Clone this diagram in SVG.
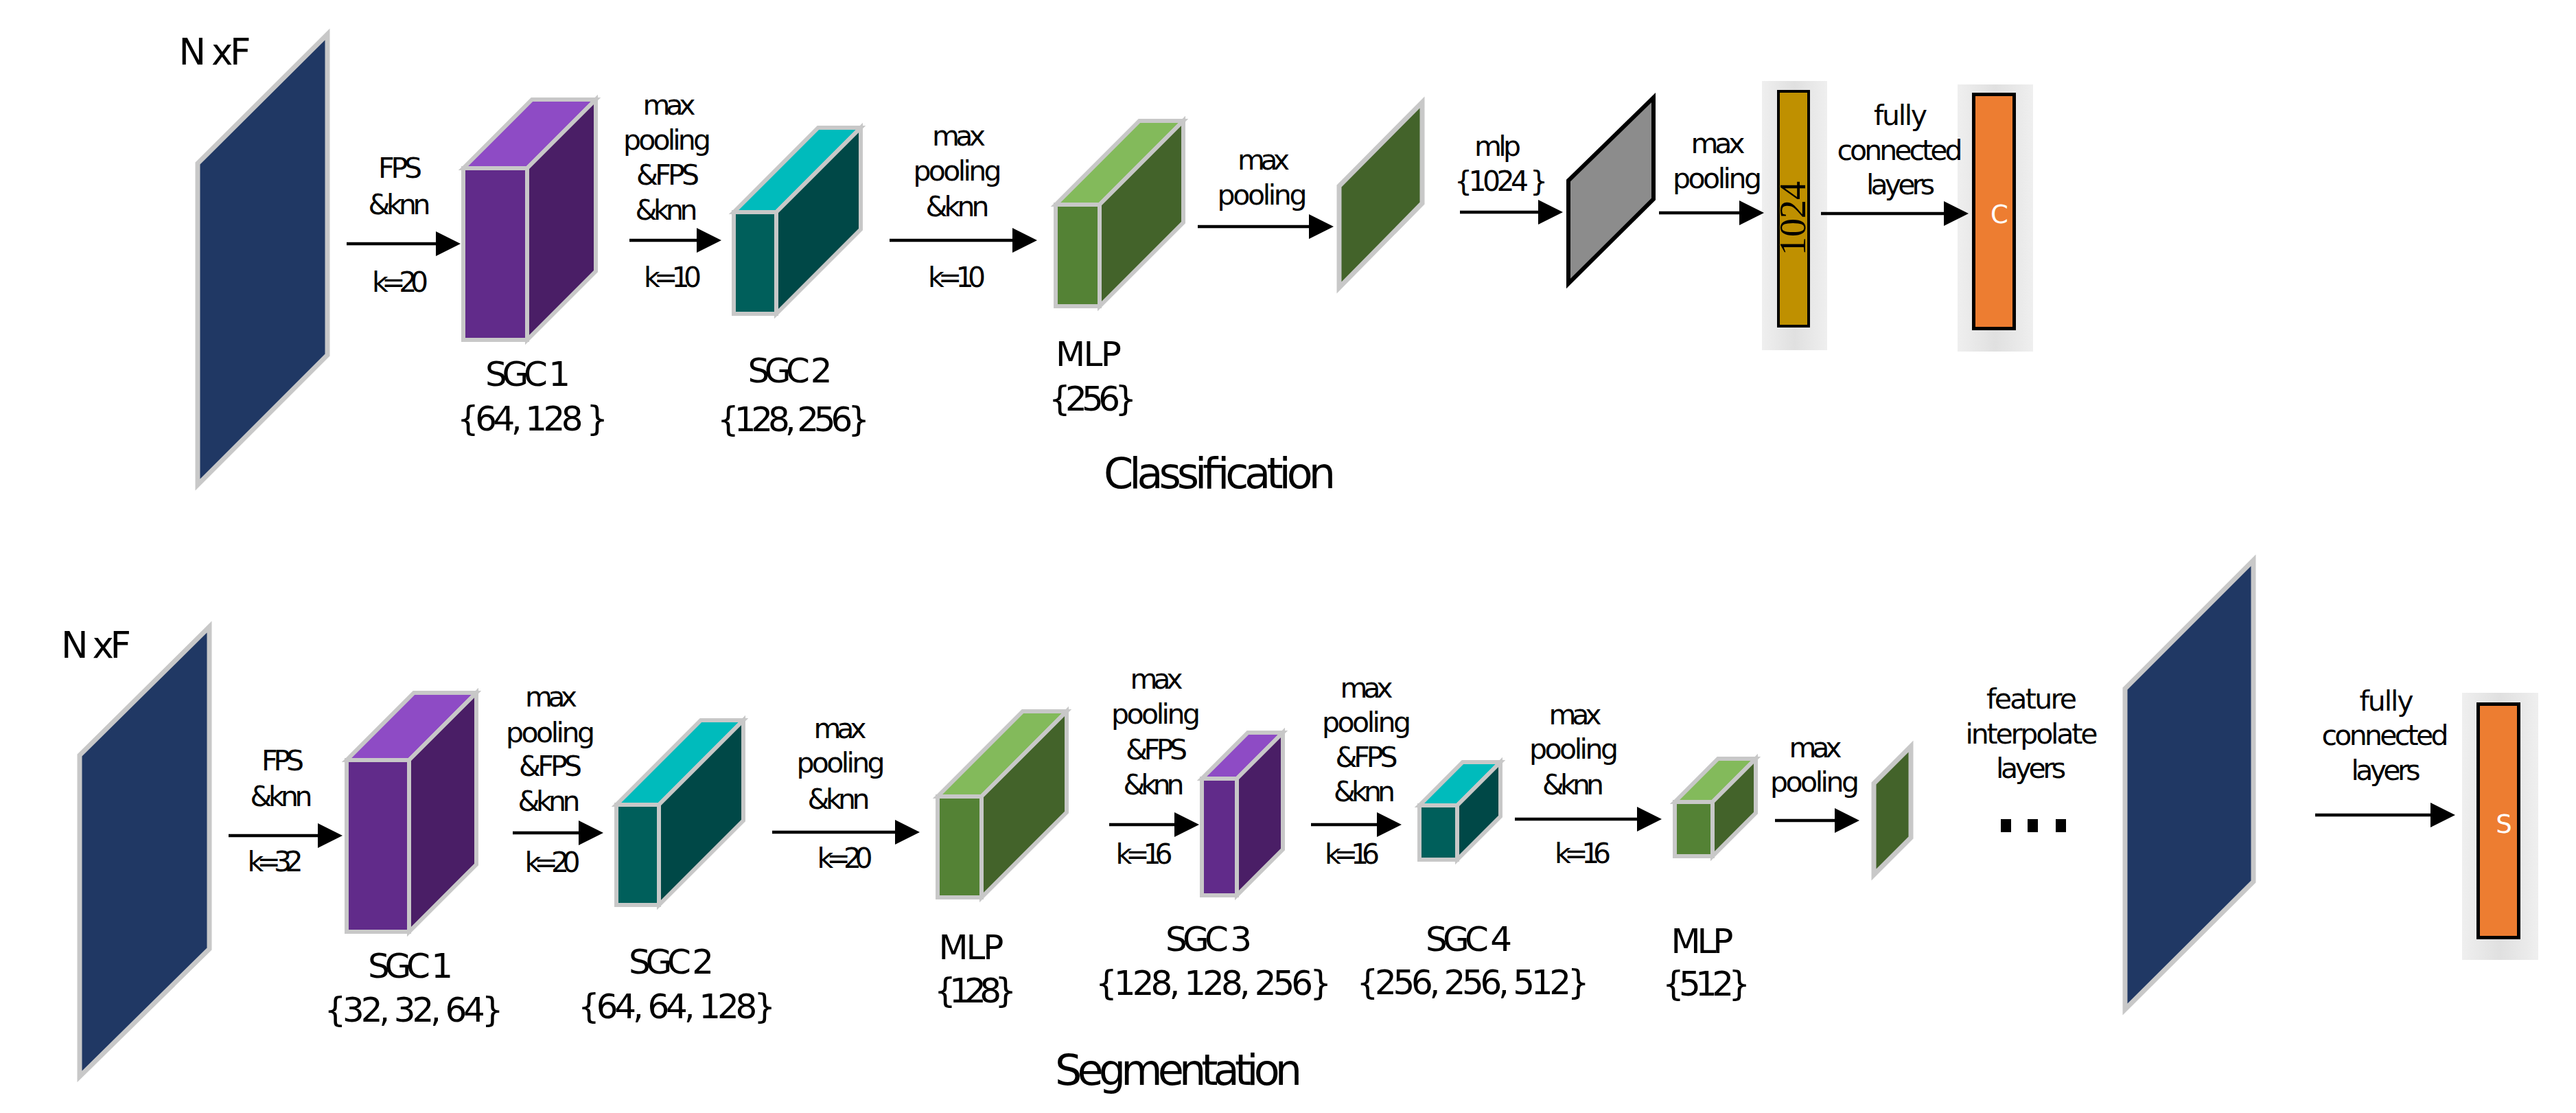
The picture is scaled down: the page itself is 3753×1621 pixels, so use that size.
<svg xmlns="http://www.w3.org/2000/svg" width="3753" height="1621" viewBox="0 0 3753 1621">
<defs>
<style>
text{font-family:"DejaVu Sans","Liberation Sans",sans-serif;fill:#000}
.l{font-size:41px;text-anchor:middle}
.n{font-size:50px;text-anchor:middle}
.t{font-size:62px;text-anchor:middle}
.nx{font-size:53px;text-anchor:middle}
.pl{stroke:#c8c8c8;stroke-width:7;stroke-linejoin:miter}
.cb{stroke:#c8c8c8;stroke-width:6;stroke-linejoin:miter}
.navy{fill:#203864}
.gdk{fill:#43632a}
.pf{fill:#612b8a}.pt{fill:#8e4bc5}.ps{fill:#4a1e66}
.tf{fill:#005f5b}.tt{fill:#00bbbc}.ts{fill:#004847}
.gf{fill:#548235}.gt{fill:#83ba5b}.gs{fill:#43632a}
.arr{stroke:#000;stroke-width:4.5;fill:none;marker-end:url(#ah)}
.bar{stroke:#000;stroke-width:5}
</style>
<marker id="ah" viewBox="0 0 36 36" refX="24" refY="18" markerWidth="36" markerHeight="36" markerUnits="userSpaceOnUse" orient="auto">
<path d="M0,0 L36,18 L0,36 Z" fill="#000"/>
</marker>
<linearGradient id="band" x1="0" y1="0" x2="1" y2="0">
<stop offset="0" stop-color="#efefef"/>
<stop offset="0.5" stop-color="#e0e0e0"/>
<stop offset="1" stop-color="#efefef"/>
</linearGradient>
</defs>
<rect width="3753" height="1621" fill="#fff"/>

<!-- ===== Classification row ===== -->
<g id="input-top">
<polygon class="pl navy" points="288,238 477,50 477,517 288,706"/>
<text class="nx" x="313" y="94" textLength="105" lengthAdjust="spacing">N xF</text>
</g>

<g id="sgc1-top">
<rect class="cb pf" x="675" y="245" width="93" height="250"/>
<polygon class="cb pt" points="675,245 775,145 868,145 768,245"/>
<polygon class="cb ps" points="768,245 868,145 868,395 768,495"/>
<text class="n" x="769" y="562" textLength="124" lengthAdjust="spacing">SGC 1</text>
<text class="n" x="776" y="627" textLength="220" lengthAdjust="spacing">{64, 128 }</text>
</g>

<g id="sgc2-top">
<rect class="cb tf" x="1069" y="309" width="62" height="148"/>
<polygon class="cb tt" points="1069,309 1192,186 1254,186 1131,309"/>
<polygon class="cb ts" points="1131,309 1254,186 1254,334 1131,457"/>
<text class="n" x="1151" y="557" textLength="123" lengthAdjust="spacing">SGC 2</text>
<text class="n" x="1156" y="628" textLength="222" lengthAdjust="spacing">{128, 256}</text>
</g>

<g id="mlp-top">
<rect class="cb gf" x="1538" y="298" width="64" height="148"/>
<polygon class="cb gt" points="1538,298 1660,176 1724,176 1602,298"/>
<polygon class="cb gs" points="1602,298 1724,176 1724,324 1602,446"/>
<text class="n" x="1586" y="533" textLength="96" lengthAdjust="spacing">MLP</text>
<text class="n" x="1592" y="598" textLength="128" lengthAdjust="spacing">{256}</text>
</g>

<g id="pool-top">
<polygon class="pl gdk" points="1951,271 2072,149 2072,296 1951,419"/>
</g>

<g id="mlp1024-top">
<polygon points="2285,263 2409,142 2409,290 2285,413" fill="#8c8c8c" stroke="#000" stroke-width="6"/>
</g>

<g id="vec1024">
<rect x="2567" y="118" width="95" height="392" fill="url(#band)"/>
<rect x="2591" y="133" width="44" height="342" fill="#bf9000" stroke="#000" stroke-width="4"/>
<text transform="translate(2630,318) rotate(-90)" style="font-family:'Liberation Serif',serif;font-size:54px;text-anchor:middle">1024</text>
</g>

<g id="out-c">
<rect x="2852" y="123" width="110" height="389" fill="url(#band)"/>
<rect class="bar" x="2875.5" y="137.5" width="59" height="341" fill="#ed7d31"/>
<text x="2913" y="325" style="font-size:37px;fill:#fff;text-anchor:middle">C</text>
</g>

<text class="t" x="1777" y="711" textLength="338" lengthAdjust="spacing">Classification</text>

<!-- ===== Segmentation row ===== -->
<g id="input-bot">
<polygon class="pl navy" points="116,1100 305,913 305,1382 116,1568"/>
<text class="nx" x="140" y="958" textLength="102" lengthAdjust="spacing">N xF</text>
</g>

<g id="sgc1-bot">
<rect class="cb pf" x="505" y="1107" width="91" height="250"/>
<polygon class="cb pt" points="505,1107 603,1009 694,1009 596,1107"/>
<polygon class="cb ps" points="596,1107 694,1009 694,1259 596,1357"/>
<text class="n" x="598" y="1424" textLength="124" lengthAdjust="spacing">SGC 1</text>
<text class="n" x="603" y="1488" textLength="261" lengthAdjust="spacing">{32, 32, 64}</text>
</g>

<g id="sgc2-bot">
<rect class="cb tf" x="898" y="1172" width="62" height="146"/>
<polygon class="cb tt" points="898,1172 1021,1049 1083,1049 960,1172"/>
<polygon class="cb ts" points="960,1172 1083,1049 1083,1195 960,1318"/>
<text class="n" x="978" y="1418" textLength="124" lengthAdjust="spacing">SGC 2</text>
<text class="n" x="986" y="1483" textLength="288" lengthAdjust="spacing">{64, 64, 128}</text>
</g>

<g id="mlp-bot">
<rect class="cb gf" x="1366" y="1160" width="64" height="147"/>
<polygon class="cb gt" points="1366,1160 1490,1036 1554,1036 1430,1160"/>
<polygon class="cb gs" points="1430,1160 1554,1036 1554,1183 1430,1307"/>
<text class="n" x="1415" y="1397" textLength="95" lengthAdjust="spacing">MLP</text>
<text class="n" x="1421" y="1460" textLength="120" lengthAdjust="spacing">{128}</text>
</g>

<g id="sgc3-bot">
<rect class="cb pf" x="1751" y="1134" width="51" height="170"/>
<polygon class="cb pt" points="1751,1134 1818,1067 1869,1067 1802,1134"/>
<polygon class="cb ps" points="1802,1134 1869,1067 1869,1237 1802,1304"/>
<text class="n" x="1761" y="1385" textLength="126" lengthAdjust="spacing">SGC 3</text>
<text class="n" x="1768" y="1449" textLength="344" lengthAdjust="spacing">{128, 128, 256}</text>
</g>

<g id="sgc4-bot">
<rect class="cb tf" x="2068" y="1173" width="55" height="79"/>
<polygon class="cb tt" points="2068,1173 2131,1110 2186,1110 2123,1173"/>
<polygon class="cb ts" points="2123,1173 2186,1110 2186,1189 2123,1252"/>
<text class="n" x="2140" y="1385" textLength="126" lengthAdjust="spacing">SGC 4</text>
<text class="n" x="2146" y="1448" textLength="339" lengthAdjust="spacing">{256, 256, 512}</text>
</g>

<g id="mlp2-bot">
<rect class="cb gf" x="2440" y="1168" width="55" height="79"/>
<polygon class="cb gt" points="2440,1168 2503,1105 2558,1105 2495,1168"/>
<polygon class="cb gs" points="2495,1168 2558,1105 2558,1184 2495,1247"/>
<text class="n" x="2480" y="1388" textLength="91" lengthAdjust="spacing">MLP</text>
<text class="n" x="2486" y="1450" textLength="128" lengthAdjust="spacing">{512}</text>
</g>

<g id="pool-bot">
<polygon class="pl gdk" points="2730,1141 2784,1087 2784,1220 2730,1274"/>
</g>

<g id="interp">
<text class="l" x="2960" y="1032" textLength="132" lengthAdjust="spacing">feature</text>
<text class="l" x="2960" y="1083" textLength="193" lengthAdjust="spacing">interpolate</text>
<text class="l" x="2959" y="1133" textLength="102" lengthAdjust="spacing">layers</text>
<rect x="2915" y="1193" width="15" height="19" fill="#000"/>
<rect x="2954" y="1193" width="15" height="19" fill="#000"/>
<rect x="2995" y="1193" width="15" height="19" fill="#000"/>
</g>

<g id="feat-bot">
<polygon class="pl navy" points="3096,1003 3283,816 3283,1284 3096,1470"/>
</g>

<g id="out-s">
<rect x="3587" y="1009" width="111" height="389" fill="url(#band)"/>
<rect class="bar" x="3610.5" y="1025.5" width="59" height="340" fill="#ed7d31"/>
<text x="3648" y="1213" style="font-size:37px;fill:#fff;text-anchor:middle">S</text>
</g>

<text class="t" x="1717" y="1580" textLength="360" lengthAdjust="spacing">Segmentation</text>

<!-- ===== Connectors ===== -->
<g id="connectors">
<path class="arr" d="M505,355 H659"/>
<path class="arr" d="M917,350 H1039"/>
<path class="arr" d="M1296,350 H1499"/>
<path class="arr" d="M1745,330 H1931"/>
<path class="arr" d="M2127,309 H2265"/>
<path class="arr" d="M2417,310 H2558"/>
<path class="arr" d="M2653,311 H2856"/>
<path class="arr" d="M333,1217 H487"/>
<path class="arr" d="M747,1213 H867"/>
<path class="arr" d="M1125,1212 H1328"/>
<path class="arr" d="M1616,1201 H1735"/>
<path class="arr" d="M1910,1201 H2030"/>
<path class="arr" d="M2207,1193 H2409"/>
<path class="arr" d="M2586,1195 H2697"/>
<path class="arr" d="M3373,1187 H3565"/>
</g>

<!-- ===== Connector labels ===== -->
<g id="labels">
<text class="l" x="583" y="259" textLength="64" lengthAdjust="spacing">FPS</text>
<text class="l" x="582" y="312" textLength="91" lengthAdjust="spacing">&amp;knn</text>
<text class="l" x="583" y="425" textLength="82" lengthAdjust="spacing">k=20</text>

<text class="l" x="975" y="167" textLength="77" lengthAdjust="spacing">max</text>
<text class="l" x="972" y="218" textLength="128" lengthAdjust="spacing">pooling</text>
<text class="l" x="973" y="269" textLength="92" lengthAdjust="spacing">&amp;FPS</text>
<text class="l" x="971" y="320" textLength="91" lengthAdjust="spacing">&amp;knn</text>
<text class="l" x="980" y="418" textLength="84" lengthAdjust="spacing">k=10</text>

<text class="l" x="1397" y="212" textLength="78" lengthAdjust="spacing">max</text>
<text class="l" x="1395" y="263" textLength="129" lengthAdjust="spacing">pooling</text>
<text class="l" x="1395" y="315" textLength="93" lengthAdjust="spacing">&amp;knn</text>
<text class="l" x="1394" y="418" textLength="84" lengthAdjust="spacing">k=10</text>

<text class="l" x="1841" y="247" textLength="76" lengthAdjust="spacing">max</text>
<text class="l" x="1839" y="298" textLength="131" lengthAdjust="spacing">pooling</text>

<text class="l" x="2182" y="227" textLength="68" lengthAdjust="spacing">mlp</text>
<text class="l" x="2187" y="278" textLength="136" lengthAdjust="spacing">{1024 }</text>

<text class="l" x="2503" y="223" textLength="79" lengthAdjust="spacing">max</text>
<text class="l" x="2502" y="274" textLength="130" lengthAdjust="spacing">pooling</text>

<text class="l" x="2769" y="182" textLength="78" lengthAdjust="spacing">fully</text>
<text class="l" x="2768" y="233" textLength="183" lengthAdjust="spacing">connected</text>
<text class="l" x="2769" y="283" textLength="100" lengthAdjust="spacing">layers</text>

<text class="l" x="412" y="1122" textLength="62" lengthAdjust="spacing">FPS</text>
<text class="l" x="410" y="1174" textLength="91" lengthAdjust="spacing">&amp;knn</text>
<text class="l" x="401" y="1269" textLength="81" lengthAdjust="spacing">k=32</text>

<text class="l" x="803" y="1029" textLength="76" lengthAdjust="spacing">max</text>
<text class="l" x="802" y="1081" textLength="130" lengthAdjust="spacing">pooling</text>
<text class="l" x="802" y="1130" textLength="92" lengthAdjust="spacing">&amp;FPS</text>
<text class="l" x="800" y="1181" textLength="91" lengthAdjust="spacing">&amp;knn</text>
<text class="l" x="805" y="1270" textLength="81" lengthAdjust="spacing">k=20</text>

<text class="l" x="1224" y="1075" textLength="77" lengthAdjust="spacing">max</text>
<text class="l" x="1225" y="1125" textLength="129" lengthAdjust="spacing">pooling</text>
<text class="l" x="1222" y="1178" textLength="91" lengthAdjust="spacing">&amp;knn</text>
<text class="l" x="1231" y="1264" textLength="81" lengthAdjust="spacing">k=20</text>

<text class="l" x="1685" y="1003" textLength="77" lengthAdjust="spacing">max</text>
<text class="l" x="1684" y="1054" textLength="130" lengthAdjust="spacing">pooling</text>
<text class="l" x="1685" y="1106" textLength="90" lengthAdjust="spacing">&amp;FPS</text>
<text class="l" x="1681" y="1157" textLength="89" lengthAdjust="spacing">&amp;knn</text>
<text class="l" x="1667" y="1258" textLength="83" lengthAdjust="spacing">k=16</text>

<text class="l" x="1991" y="1016" textLength="77" lengthAdjust="spacing">max</text>
<text class="l" x="1991" y="1066" textLength="130" lengthAdjust="spacing">pooling</text>
<text class="l" x="1991" y="1117" textLength="91" lengthAdjust="spacing">&amp;FPS</text>
<text class="l" x="1988" y="1167" textLength="90" lengthAdjust="spacing">&amp;knn</text>
<text class="l" x="1970" y="1258" textLength="80" lengthAdjust="spacing">k=16</text>

<text class="l" x="2295" y="1055" textLength="77" lengthAdjust="spacing">max</text>
<text class="l" x="2293" y="1105" textLength="130" lengthAdjust="spacing">pooling</text>
<text class="l" x="2292" y="1157" textLength="90" lengthAdjust="spacing">&amp;knn</text>
<text class="l" x="2306" y="1257" textLength="82" lengthAdjust="spacing">k=16</text>

<text class="l" x="2645" y="1103" textLength="77" lengthAdjust="spacing">max</text>
<text class="l" x="2644" y="1153" textLength="130" lengthAdjust="spacing">pooling</text>

<text class="l" x="3477" y="1035" textLength="79" lengthAdjust="spacing">fully</text>
<text class="l" x="3475" y="1085" textLength="185" lengthAdjust="spacing">connected</text>
<text class="l" x="3476" y="1136" textLength="101" lengthAdjust="spacing">layers</text>
</g>
</svg>
